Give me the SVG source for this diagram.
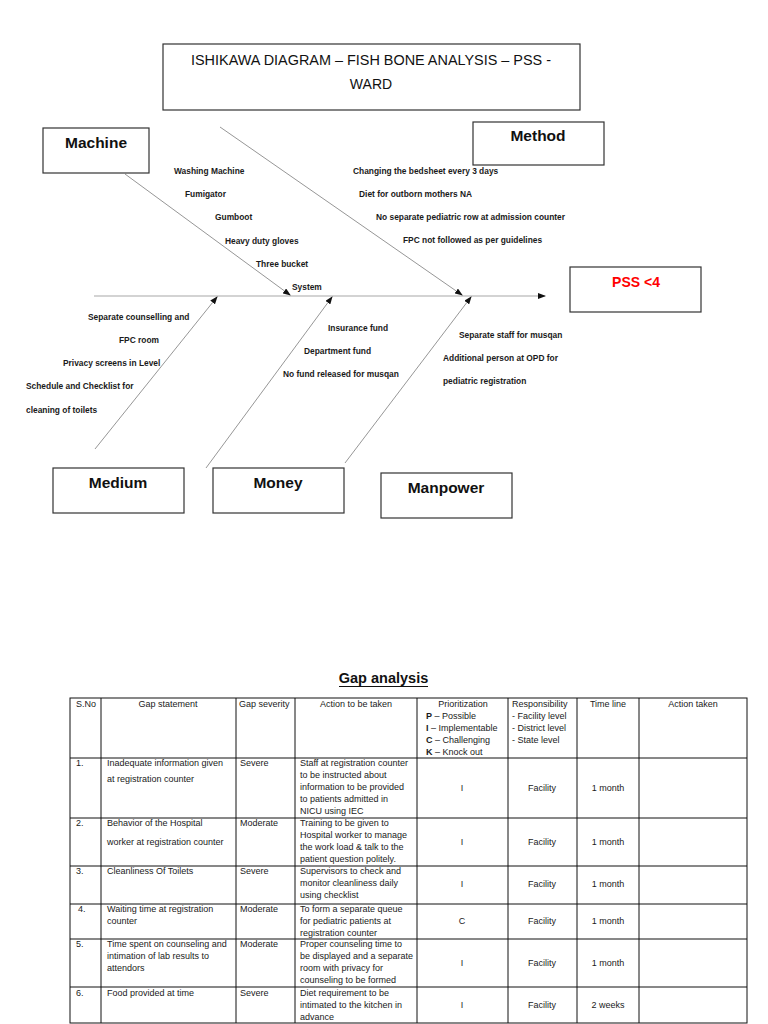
<svg xmlns="http://www.w3.org/2000/svg" width="768" height="1024" viewBox="0 0 768 1024">
<style>
.box{fill:#fff;stroke:#333;stroke-width:1.2}
.head{font-family:"Liberation Sans",Arial,sans-serif;font-weight:bold;font-size:15.5px;fill:#111}
.lbl{font-family:"Liberation Sans",Arial,sans-serif;font-weight:bold;font-size:8.4px;fill:#1a1a1a}
.t{font-family:"Liberation Sans",Arial,sans-serif;font-size:9px;fill:#1a1a1a}
.c{text-anchor:middle}
.bone{stroke:#8a8a8a;stroke-width:0.9;fill:none}
.spine{stroke:#c4c4c4;stroke-width:1.3;fill:none}
.grid{stroke:#111;stroke-width:1;fill:none}
</style>
<defs>
<marker id="ah" markerUnits="userSpaceOnUse" markerWidth="8" markerHeight="6" refX="7" refY="3" orient="auto">
<path d="M0,0 L8,3 L0,6 z" fill="#111"/>
</marker>
</defs>
<rect width="768" height="1024" fill="#fff"/>

<g id="title">
<rect class="box" x="163" y="44" width="417" height="66"/>
<text x="371" y="65" font-family="Liberation Sans,Arial,sans-serif" font-size="14" fill="#111" text-anchor="middle" textLength="360" lengthAdjust="spacingAndGlyphs">ISHIKAWA DIAGRAM – FISH BONE ANALYSIS – PSS -</text>
<text x="371" y="89" font-family="Liberation Sans,Arial,sans-serif" font-size="14" fill="#111" text-anchor="middle">WARD</text>
</g>

<g id="connectors">
<line class="spine" x1="94" y1="296" x2="545" y2="296" marker-end="url(#ah)"/>
<line class="bone" x1="125" y1="174" x2="290" y2="295" marker-end="url(#ah)"/>
<line class="bone" x1="220" y1="127" x2="462" y2="295" marker-end="url(#ah)"/>
<line class="bone" x1="95" y1="449" x2="217" y2="297" marker-end="url(#ah)"/>
<line class="bone" x1="206" y1="468" x2="332" y2="297" marker-end="url(#ah)"/>
<line class="bone" x1="345" y1="463" x2="471" y2="297" marker-end="url(#ah)"/>
</g>

<g id="machine">
<rect class="box" x="43" y="128" width="106" height="45"/>
<text class="head" x="96" y="148" text-anchor="middle">Machine</text>
<text class="lbl" x="174" y="174">Washing Machine</text>
<text class="lbl" x="185" y="197">Fumigator</text>
<text class="lbl" x="215" y="220">Gumboot</text>
<text class="lbl" x="225" y="244">Heavy duty gloves</text>
<text class="lbl" x="256" y="267">Three bucket</text>
<text class="lbl" x="292" y="290">System</text>
</g>

<g id="method">
<rect class="box" x="473" y="122" width="131" height="43"/>
<text class="head" x="538" y="141" text-anchor="middle">Method</text>
<text class="lbl" x="353" y="174">Changing the bedsheet every 3 days</text>
<text class="lbl" x="359" y="197">Diet for outborn mothers NA</text>
<text class="lbl" x="376" y="220">No separate pediatric row at admission counter</text>
<text class="lbl" x="403" y="243">FPC not followed as per guidelines</text>
</g>

<g id="pss">
<rect class="box" x="570" y="267" width="131" height="45"/>
<text x="636" y="287" font-family="Liberation Sans,Arial,sans-serif" font-weight="bold" font-size="14" fill="#ff0000" text-anchor="middle">PSS &lt;4</text>
</g>

<g id="medium">
<rect class="box" x="53" y="468" width="131" height="45"/>
<text class="head" x="118" y="488" text-anchor="middle">Medium</text>
<text class="lbl" x="88" y="320">Separate counselling and</text>
<text class="lbl" x="119" y="343">FPC room</text>
<text class="lbl" x="63" y="366">Privacy screens in Level</text>
<text class="lbl" x="26" y="389">Schedule and Checklist for</text>
<text class="lbl" x="26" y="413">cleaning of toilets</text>
</g>

<g id="money">
<rect class="box" x="213" y="468" width="131" height="45"/>
<text class="head" x="278" y="488" text-anchor="middle">Money</text>
<text class="lbl" x="328" y="331">Insurance fund</text>
<text class="lbl" x="304" y="354">Department fund</text>
<text class="lbl" x="283" y="377">No fund released for musqan</text>
</g>

<g id="manpower">
<rect class="box" x="381" y="473" width="131" height="45"/>
<text class="head" x="446" y="493" text-anchor="middle">Manpower</text>
<text class="lbl" x="459" y="338">Separate staff for musqan</text>
<text class="lbl" x="443" y="361">Additional person at OPD for</text>
<text class="lbl" x="443" y="384">pediatric registration</text>
</g>

<g id="gap-heading">
<text x="383.5" y="683" font-family="Liberation Sans,Arial,sans-serif" font-weight="bold" font-size="14.5" fill="#111" text-anchor="middle">Gap analysis</text>
<line x1="339" y1="686.5" x2="428" y2="686.5" stroke="#111" stroke-width="1.1"/>
</g>

<g id="table">
<rect class="grid" x="70" y="698" width="677" height="325"/>
<line class="grid" x1="70" y1="758" x2="747" y2="758"/>
<line class="grid" x1="70" y1="818" x2="747" y2="818"/>
<line class="grid" x1="70" y1="866" x2="747" y2="866"/>
<line class="grid" x1="70" y1="904" x2="747" y2="904"/>
<line class="grid" x1="70" y1="939" x2="747" y2="939"/>
<line class="grid" x1="70" y1="987" x2="747" y2="987"/>
<line class="grid" x1="101" y1="698" x2="101" y2="1023"/>
<line class="grid" x1="236" y1="698" x2="236" y2="1023"/>
<line class="grid" x1="295" y1="698" x2="295" y2="1023"/>
<line class="grid" x1="417" y1="698" x2="417" y2="1023"/>
<line class="grid" x1="508" y1="698" x2="508" y2="1023"/>
<line class="grid" x1="577" y1="698" x2="577" y2="1023"/>
<line class="grid" x1="639" y1="698" x2="639" y2="1023" stroke="#555" stroke-width="1.4"/>

<text class="t" x="76" y="707">S.No</text>
<text class="t c" x="168" y="707">Gap statement</text>
<text class="t" x="239" y="707">Gap severity</text>
<text class="t c" x="356" y="707">Action to be taken</text>
<text class="t c" x="463" y="707">Prioritization</text>
<text class="t" x="426" y="719"><tspan font-weight="bold">P</tspan> – Possible</text>
<text class="t" x="426" y="731"><tspan font-weight="bold">I</tspan> – Implementable</text>
<text class="t" x="426" y="743"><tspan font-weight="bold">C</tspan> – Challenging</text>
<text class="t" x="426" y="755"><tspan font-weight="bold">K</tspan> – Knock out</text>
<text class="t" x="512" y="707">Responsibility</text>
<text class="t" x="512" y="719">- Facility level</text>
<text class="t" x="512" y="731">- District level</text>
<text class="t" x="512" y="743">- State level</text>
<text class="t c" x="608" y="707">Time line</text>
<text class="t c" x="693" y="707">Action taken</text>

<text class="t" x="76" y="766">1.</text>
<text class="t" x="107" y="766">Inadequate information given</text>
<text class="t" x="107" y="782">at registration counter</text>
<text class="t" x="240" y="766">Severe</text>
<text class="t" x="300" y="766">Staff at registration counter</text>
<text class="t" x="300" y="778">to be instructed about</text>
<text class="t" x="300" y="790">information to be provided</text>
<text class="t" x="300" y="802">to patients admitted in</text>
<text class="t" x="300" y="814">NICU using IEC</text>
<text class="t c" x="462" y="791">I</text>
<text class="t c" x="542" y="791">Facility</text>
<text class="t c" x="608" y="791">1 month</text>

<text class="t" x="76" y="826">2.</text>
<text class="t" x="107" y="826">Behavior of the Hospital</text>
<text class="t" x="107" y="845">worker at registration counter</text>
<text class="t" x="240" y="826">Moderate</text>
<text class="t" x="300" y="826">Training to be given to</text>
<text class="t" x="300" y="838">Hospital worker to manage</text>
<text class="t" x="300" y="850">the work load &amp; talk to the</text>
<text class="t" x="300" y="862">patient question politely.</text>
<text class="t c" x="462" y="845">I</text>
<text class="t c" x="542" y="845">Facility</text>
<text class="t c" x="608" y="845">1 month</text>

<text class="t" x="76" y="874">3.</text>
<text class="t" x="107" y="874">Cleanliness Of Toilets</text>
<text class="t" x="240" y="874">Severe</text>
<text class="t" x="300" y="874">Supervisors to check and</text>
<text class="t" x="300" y="886">monitor cleanliness daily</text>
<text class="t" x="300" y="898">using checklist</text>
<text class="t c" x="462" y="887">I</text>
<text class="t c" x="542" y="887">Facility</text>
<text class="t c" x="608" y="887">1 month</text>

<text class="t" x="78" y="912">4.</text>
<text class="t" x="107" y="912">Waiting time at registration</text>
<text class="t" x="107" y="924">counter</text>
<text class="t" x="240" y="912">Moderate</text>
<text class="t" x="300" y="912">To form a separate queue</text>
<text class="t" x="300" y="924">for pediatric patients at</text>
<text class="t" x="300" y="936">registration counter</text>
<text class="t c" x="462" y="924">C</text>
<text class="t c" x="542" y="924">Facility</text>
<text class="t c" x="608" y="924">1 month</text>

<text class="t" x="76" y="947">5.</text>
<text class="t" x="107" y="947">Time spent on counseling and</text>
<text class="t" x="107" y="959">intimation of lab results to</text>
<text class="t" x="107" y="971">attendors</text>
<text class="t" x="240" y="947">Moderate</text>
<text class="t" x="300" y="947">Proper counseling time to</text>
<text class="t" x="300" y="959">be displayed and a separate</text>
<text class="t" x="300" y="971">room with privacy for</text>
<text class="t" x="300" y="983">counseling to be formed</text>
<text class="t c" x="462" y="966">I</text>
<text class="t c" x="542" y="966">Facility</text>
<text class="t c" x="608" y="966">1 month</text>

<text class="t" x="76" y="996">6.</text>
<text class="t" x="107" y="996">Food provided at time</text>
<text class="t" x="240" y="996">Severe</text>
<text class="t" x="300" y="996">Diet requirement to be</text>
<text class="t" x="300" y="1008">intimated to the kitchen in</text>
<text class="t" x="300" y="1020">advance</text>
<text class="t c" x="462" y="1008">I</text>
<text class="t c" x="542" y="1008">Facility</text>
<text class="t c" x="608" y="1008">2 weeks</text>
</g>
</svg>
